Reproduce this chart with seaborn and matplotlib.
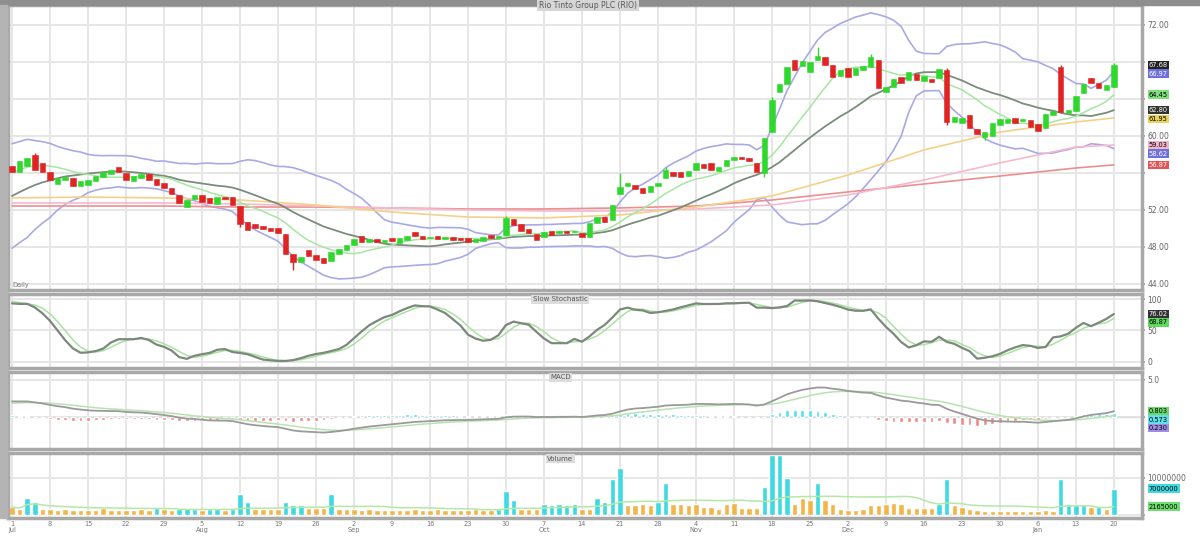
import matplotlib
matplotlib.use("Agg")
import matplotlib.pyplot as plt
from matplotlib.patches import Rectangle
import numpy as np
import pandas as pd
import seaborn as sns

#%% data
title = "Rio Tinto Group PLC (RIO)"
start_date = "2019-07-01"

# closes of the sessions just before the first candle (only feed the bands / MACD)
warmup_close = [48.2, 48.9, 49.6, 49.2, 50.3, 51.0, 50.7, 51.8, 52.5, 53.2,
                52.9, 54.0, 54.7, 55.4, 55.1, 56.2, 56.9, 57.5, 57.0, 57.3]

open_ = [56.76, 56.10, 56.76, 57.95, 57.09, 56.10, 54.81, 55.24, 55.46, 54.59,
         54.70, 55.13, 55.56, 55.89, 56.65, 56.00, 55.13, 55.46, 55.89, 55.35,
         54.92, 54.38, 53.62, 52.32, 53.19, 53.62, 53.30, 52.65, 53.40, 53.40,
         52.43, 50.70, 50.49, 50.27, 50.06, 50.06, 49.41, 47.25, 46.37, 47.68,
         47.14, 46.81, 46.48, 47.25, 47.68, 48.22, 49.19, 48.54, 48.87, 48.54,
         48.98, 48.43, 48.76, 49.62, 49.19, 48.98, 49.19, 48.87, 49.08, 48.98,
         48.98, 48.54, 48.65, 49.30, 48.98, 49.30, 51.03, 50.49, 49.95, 49.41,
         49.08, 49.73, 49.52, 49.73, 49.62, 49.52, 49.08, 50.59, 51.24, 50.92,
         53.73, 54.59, 54.70, 54.38, 53.95, 54.59, 55.46, 56.10, 56.10, 55.67,
         56.32, 56.98, 57.09, 56.21, 56.76, 57.41, 57.73, 57.63, 57.09, 56.00,
         60.43, 64.76, 65.62, 68.22, 67.57, 66.92, 68.22, 68.54, 67.68, 66.49,
         67.35, 66.60, 67.14, 67.46, 68.22, 64.76, 65.30, 66.38, 66.05, 66.70,
         65.95, 66.16, 66.27, 67.14, 61.51, 61.41, 62.27, 60.76, 59.89, 60.00,
         61.19, 61.41, 61.95, 61.62, 61.73, 61.30, 60.87, 62.27, 67.46, 62.49,
         62.70, 64.65, 66.27, 65.73, 64.97, 65.30]

close = [56.10, 57.30, 57.63, 56.32, 56.10, 55.24, 55.46, 55.56, 54.59, 55.13,
         55.24, 55.67, 56.10, 56.32, 56.10, 55.24, 55.67, 55.89, 55.24, 54.70,
         54.38, 53.73, 52.76, 53.08, 53.62, 52.86, 52.76, 53.40, 53.19, 52.54,
         50.49, 49.84, 50.06, 49.95, 49.73, 49.52, 47.25, 46.37, 46.92, 47.03,
         46.59, 46.27, 47.46, 47.79, 48.22, 48.87, 48.54, 48.87, 48.54, 48.76,
         48.65, 48.98, 49.19, 49.19, 48.87, 49.08, 48.87, 49.08, 48.76, 48.76,
         48.54, 48.87, 49.08, 48.98, 49.19, 51.14, 50.38, 49.73, 49.52, 48.76,
         49.62, 49.30, 49.73, 49.52, 49.73, 49.08, 50.59, 51.24, 50.70, 52.54,
         54.49, 54.92, 54.27, 53.84, 54.59, 54.92, 56.32, 55.67, 55.56, 56.21,
         57.09, 56.54, 56.32, 56.65, 57.41, 57.73, 57.52, 57.30, 56.10, 59.78,
         63.89, 65.62, 67.46, 67.14, 68.11, 68.00, 68.65, 67.68, 66.38, 67.14,
         66.38, 67.35, 67.57, 68.54, 65.19, 65.30, 66.16, 65.73, 66.92, 66.05,
         66.49, 65.84, 67.24, 61.51, 62.05, 61.95, 60.87, 60.22, 60.43, 61.41,
         61.84, 61.84, 61.41, 61.84, 60.97, 60.54, 62.38, 62.70, 62.59, 62.81,
         64.32, 65.62, 65.73, 65.19, 65.51, 67.68]

# visible wicks beyond the bodies
wick_high = {3: 58.2, 65: 51.4, 80: 56.0, 86: 56.6, 100: 64.2, 106: 69.6,
             113: 68.9, 123: 67.4, 138: 67.7, 145: 67.9}
wick_low = {30: 50.2, 37: 45.5, 99: 55.6, 123: 61.2, 128: 59.6}

# volume, millions of shares
volume = [2.0, 1.6, 4.5, 3.5, 1.5, 1.4, 1.3, 1.4, 1.3, 1.2,
          1.3, 1.2, 1.8, 1.3, 1.2, 1.3, 1.2, 1.4, 1.3, 1.9,
          1.4, 1.3, 1.5, 1.8, 1.4, 1.3, 1.4, 1.5, 1.3, 1.6,
          5.5, 3.5, 1.6, 1.4, 1.5, 1.6, 3.5, 2.5, 2.5, 1.8,
          1.7, 1.8, 5.5, 1.6, 1.5, 1.4, 1.3, 1.4, 1.3, 1.2,
          1.3, 1.2, 1.3, 1.4, 1.2, 1.3, 1.4, 1.2, 1.3, 1.2,
          1.3, 1.4, 1.3, 1.2, 1.5, 6.5, 4.0, 1.6, 1.5, 1.6,
          2.8, 2.6, 2.9, 2.7, 2.8, 1.5, 1.6, 4.5, 3.5, 9.5,
          12.5, 2.7, 2.6, 2.8, 2.7, 3.5, 8.5, 2.8, 2.9, 2.7,
          2.8, 2.0, 2.1, 1.5, 3.0, 3.1, 1.8, 1.7, 1.9, 7.5,
          16.0, 16.0, 10.0, 3.0, 4.5, 4.0, 8.5, 4.0, 3.0, 1.5,
          1.3, 1.2, 1.4, 2.5, 2.6, 3.0, 3.1, 2.9, 1.8, 1.7,
          1.9, 1.8, 3.0, 9.5, 2.5, 2.0, 1.5, 1.2, 1.0, 1.1,
          1.0, 1.1, 1.0, 1.0, 1.1, 1.0, 1.2, 1.1, 9.5, 3.0,
          2.5, 2.5, 2.0, 2.0, 1.5, 7.0]

# long moving averages, read at every 10th session
ma_idx = [0, 10, 20, 30, 40, 50, 60, 70, 80, 90, 100, 110, 120, 130, 140, 145]
ma50 = [53.30, 53.40, 53.30, 53.08, 52.54, 51.78, 51.24, 51.14, 51.46, 52.32,
        53.51, 55.78, 58.49, 60.43, 61.51, 61.95]
ma100 = [52.76, 52.76, 52.76, 52.65, 52.43, 52.22, 52.00, 51.89, 51.89, 52.11,
         52.54, 53.62, 55.24, 57.09, 58.81, 59.03]
ma200 = [52.43, 52.43, 52.43, 52.32, 52.32, 52.22, 52.11, 52.11, 52.22, 52.43,
         53.08, 53.95, 54.81, 55.67, 56.54, 56.87]

price_ticks = [44, 48, 52, 56, 60, 64, 68, 72]

#%% indicators
n = len(close)
xs = np.arange(n)
o = np.array(open_)
c = np.array(close)
hi = np.maximum(o, c)
lo = np.minimum(o, c)
for k, v in wick_high.items():
    hi[k] = v
for k, v in wick_low.items():
    lo[k] = v

w = len(warmup_close)
full = pd.Series(warmup_close + close)
sma10 = full.rolling(10).mean().values[w:]
sma20 = full.rolling(20).mean().values[w:]
sd20 = full.rolling(20).std(ddof=0).values[w:]
bb_up = sma20 + 2 * sd20
bb_lo = sma20 - 2 * sd20

# slow stochastic 14,5,3
full_hi = pd.Series(warmup_close + list(hi))
full_lo = pd.Series(warmup_close + list(lo))
hh = full_hi.rolling(14, min_periods=1).max()
ll = full_lo.rolling(14, min_periods=1).min()
raw_k = (full - ll) / (hh - ll) * 100
slow_k = raw_k.rolling(5, min_periods=1).mean()
slow_d = slow_k.rolling(3, min_periods=1).mean()
slow_k = slow_k.values[w:]
slow_d = slow_d.values[w:]

ema12 = full.ewm(span=12, adjust=False).mean()
ema26 = full.ewm(span=26, adjust=False).mean()
macd = ema12 - ema26
signal = macd.ewm(span=9, adjust=False).mean()
hist = (macd - signal).values[w:]
macd = macd.values[w:]
signal = signal.values[w:]

vol = np.array(volume)
vol_ma = pd.Series(volume).rolling(20, min_periods=1).mean().values

dates = pd.bdate_range(start_date, periods=n)

#%% figure
sns.set_theme(style="white")
plt.rcParams["font.family"] = ["DejaVu Sans"]

W, H = 1200, 537
fig = plt.figure(figsize=(12, 5.37), dpi=100)

def box(top, bottom, left=8, right=1142):
    return [left / W, 1 - bottom / H, (right - left) / W, (bottom - top) / H]

ax_p = fig.add_axes(box(5, 290))
ax_s = fig.add_axes(box(294, 368), sharex=ax_p)
ax_m = fig.add_axes(box(372, 449), sharex=ax_p)
ax_v = fig.add_axes(box(453, 518), sharex=ax_p)
axes = [ax_p, ax_s, ax_m, ax_v]

# grey frame strips
fig.patches.append(Rectangle((0, 1 - 5 / H), 1, 5 / H, transform=fig.transFigure,
                             color="#8e8e8e", zorder=0))
fig.patches.append(Rectangle((0, 1 - 518 / H), 7 / W, 513 / H, transform=fig.transFigure,
                             color="#b4b4b4", zorder=0))

week_pos = [i for i in range(n) if i == 0 or dates[i].weekday() < dates[i - 1].weekday()]
week_lab = []
last_month = None
for i in week_pos:
    d = dates[i]
    lab = str(d.day)
    if d.month != last_month:
        lab += "\n" + d.strftime("%b")
        last_month = d.month
    week_lab.append(lab)

for ax in axes:
    ax.set_facecolor("white")
    for s in ax.spines.values():
        s.set_color("#a8a8a8")
        s.set_linewidth(2.5)
    ax.grid(True, color="#e6e6e6", lw=1.4)
    ax.set_axisbelow(True)
    ax.yaxis.tick_right()
    ax.tick_params(axis="y", left=True, right=True, labelleft=False, labelright=True,
                   labelsize=5.5, labelcolor="#666666", color="#a0a0a0", length=2, pad=2)
    ax.tick_params(axis="x", length=0, labelbottom=False)
    ax.set_xticks(week_pos)
ax_p.set_xlim(-0.53, 148.7)


def tags(ax, items, gap, fmt, ticks, tick_fmt):
    # value tags stacked on the right edge; tick labels under a tag are left blank
    items = sorted(items, key=lambda t: -t[0])
    prev = None
    spots = []
    for v, fc, tc in items:
        pos = v if prev is None else min(v, prev - gap)
        ax.annotate(fmt(v), xy=(1, pos), xycoords=("axes fraction", "data"),
                    xytext=(5, 0), textcoords="offset points", ha="left", va="center",
                    fontsize=4.8, color=tc, annotation_clip=False,
                    bbox=dict(boxstyle="square,pad=0.2", fc=fc, ec="none"))
        spots.append(pos)
        prev = pos
    ax.set_yticks(ticks)
    ax.set_yticklabels(["" if any(abs(t - p) < gap for p in spots) else tick_fmt(t)
                        for t in ticks])


#%% price panel
up = c >= o
col = np.where(up, "#2fd82f", "#e02424")
ax_p.vlines(xs, lo, hi, colors=col, lw=1, zorder=3)
ax_p.bar(xs, np.maximum(np.abs(c - o), 0.09), bottom=np.minimum(o, c), width=0.72,
         color=col, edgecolor=col, lw=0.4, zorder=4)

sns.lineplot(x=xs, y=bb_up, ax=ax_p, color="#a9a9e6", lw=1.2, zorder=2)
sns.lineplot(x=xs, y=bb_lo, ax=ax_p, color="#a9a9e6", lw=1.2, zorder=2)
sns.lineplot(x=ma_idx, y=ma200, ax=ax_p, color="#ec8f8f", lw=1.2, zorder=2)
sns.lineplot(x=ma_idx, y=ma100, ax=ax_p, color="#f6b9cd", lw=1.2, zorder=2)
sns.lineplot(x=ma_idx, y=ma50, ax=ax_p, color="#f4d089", lw=1.2, zorder=2)
sns.lineplot(x=xs, y=sma20, ax=ax_p, color="#7c8c7c", lw=1.3, zorder=2)
sns.lineplot(x=xs, y=sma10, ax=ax_p, color="#a6e6a0", lw=1.1, zorder=2)

ax_p.set_ylim(43.35, 74.16)
ax_p.set_ylabel("")
ax_p.text(0.004, 0.008, "Daily", transform=ax_p.transAxes, fontsize=4.8,
          color="#777777", va="bottom")
fig.text(0.49, 1 - 5 / H, title, ha="center", va="center", fontsize=5.5, color="#555555",
         bbox=dict(boxstyle="square,pad=0.2", fc="#d6d6d6", ec="none"))

tags(ax_p, [(c[-1], "#222222", "white"), (bb_up[-1], "#6f6fe0", "white"),
            (sma10[-1], "#7ee07a", "black"), (sma20[-1], "#333333", "white"),
            (ma50[-1], "#e9d35a", "black"), (ma100[-1], "#f5b3c8", "black"),
            (ma200[-1], "#e45454", "white"), (bb_lo[-1], "#6f6fe0", "white")],
     0.95, lambda v: f"{v:.2f}", price_ticks, lambda t: f"{t:.2f}")

#%% slow stochastic
sns.lineplot(x=xs, y=slow_d, ax=ax_s, color="#a9e3a0", lw=1.1)
sns.lineplot(x=xs, y=slow_k, ax=ax_s, color="#7d887d", lw=1.6)
ax_s.set_ylim(-10, 108)
ax_s.text(0.487, 0.97, "Slow Stochastic", transform=ax_s.transAxes, ha="center", va="top",
          fontsize=5, color="#555555", bbox=dict(boxstyle="square,pad=0.2", fc="#dcdcdc", ec="none"))
tags(ax_s, [(slow_k[-1], "#333333", "white"), (slow_d[-1], "#5fd85f", "black")],
     13, lambda v: f"{v:.2f}", [0, 50, 100], lambda t: f"{t}")

#%% MACD
hcol = np.where(hist >= 0, "#4fe3ea", "#f08a8a")
ax_m.bar(xs, hist, width=0.5, color=hcol, zorder=2)
ax_m.axhline(0, color="#dddddd", lw=1, zorder=1)
sns.lineplot(x=xs, y=signal, ax=ax_m, color="#b9e2b2", lw=1.1)
sns.lineplot(x=xs, y=macd, ax=ax_m, color="#9a9a9a", lw=1.3)
ax_m.set_ylim(-4.2, 6.0)
ax_m.text(0.487, 0.97, "MACD", transform=ax_m.transAxes, ha="center", va="top",
          fontsize=5, color="#555555", bbox=dict(boxstyle="square,pad=0.2", fc="#dcdcdc", ec="none"))
tags(ax_m, [(macd[-1], "#6bd86b", "black"), (signal[-1], "#a08ce6", "black"),
            (hist[-1], "#5fe0ea", "black")], 1.1, lambda v: f"{v:.3f}",
     [0, 5], lambda t: f"{t:.1f}")

#%% volume
vcol = np.where(vol > vol_ma, "#3fd9e2", "#f3b548")
ax_v.bar(xs, vol, width=0.72, color=vcol, zorder=2)
sns.lineplot(x=xs, y=vol_ma, ax=ax_v, color="#b5e8a6", lw=1.1, zorder=3)
ax_v.set_ylim(-0.9, 16.6)
ax_v.text(0.487, 0.96, "Volume", transform=ax_v.transAxes, ha="center", va="top",
          fontsize=5, color="#555555", bbox=dict(boxstyle="square,pad=0.2", fc="#dcdcdc", ec="none"))
tags(ax_v, [(vol[-1], "#3fd9e2", "black"), (vol_ma[-1], "#6fe06f", "black")],
     2.2, lambda v: f"{int(v * 1e6)}", [0, 10], lambda t: f"{int(t * 1e6)}")

ax_v.tick_params(axis="x", labelbottom=True, labelsize=4.8, labelcolor="#777777", pad=2)
ax_v.set_xticks(week_pos)
ax_v.set_xticklabels(week_lab, va="top", linespacing=1.0)

fig.savefig("out.png", dpi=100)
